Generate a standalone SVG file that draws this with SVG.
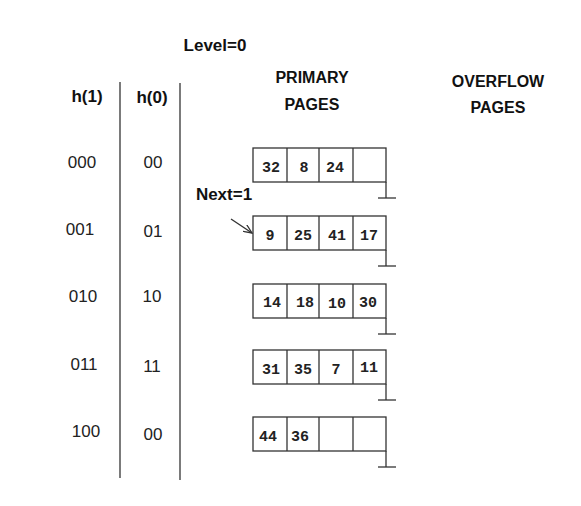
<svg xmlns="http://www.w3.org/2000/svg" width="581" height="506" viewBox="0 0 581 506">
<style>
.h{font-family:"Liberation Sans",Arial,sans-serif;font-weight:bold;font-size:17px;fill:#111;text-anchor:middle}
.p{font-family:"Liberation Sans",Arial,sans-serif;font-weight:bold;font-size:16px;fill:#111;text-anchor:middle}
.r{font-family:"Liberation Sans",Arial,sans-serif;font-size:17px;fill:#222;text-anchor:middle}
.n{font-family:"Liberation Mono","Courier New",monospace;font-weight:bold;font-size:15px;fill:#222;text-anchor:middle}
.b{fill:#fff;stroke:#333;stroke-width:1.3}
.l{stroke:#333;stroke-width:1.3;fill:none}
</style>
<defs>
<marker id="ah" markerWidth="10" markerHeight="8" refX="9" refY="4" orient="auto" markerUnits="userSpaceOnUse">
<path d="M0,0 L9,4 L0,8" fill="none" stroke="#333" stroke-width="1.3"/>
</marker>
<g id="bucket">
<rect class="b" x="0" y="0" width="133" height="34"/>
<line class="l" x1="34" y1="0" x2="34" y2="34"/>
<line class="l" x1="66" y1="0" x2="66" y2="34"/>
<line class="l" x1="100" y1="0" x2="100" y2="34"/>
<line class="l" x1="133" y1="34" x2="133" y2="50"/>
<line class="l" x1="125" y1="50" x2="143" y2="50"/>
</g>
</defs>
<rect width="581" height="506" fill="#fff"/>
<g id="headers">
<text class="h" x="215" y="51">Level=0</text>
<text class="h" x="87" y="102">h(1)</text>
<text class="h" x="152" y="103">h(0)</text>
<text class="p" x="312" y="83">PRIMARY</text>
<text class="p" x="312" y="110">PAGES</text>
<text class="p" x="498" y="87">OVERFLOW</text>
<text class="p" x="498" y="113">PAGES</text>
</g>
<g id="columns">
<line class="l" x1="120" y1="82" x2="120" y2="478"/>
<line class="l" x1="180" y1="83" x2="180" y2="480"/>
</g>
<g id="labels">
<text class="r" x="82" y="168">000</text><text class="r" x="153" y="168">00</text>
<text class="r" x="80" y="235">001</text><text class="r" x="153" y="237">01</text>
<text class="r" x="83" y="302">010</text><text class="r" x="152" y="302">10</text>
<text class="r" x="84" y="370">011</text><text class="r" x="152" y="372">11</text>
<text class="r" x="86" y="437">100</text><text class="r" x="153" y="440">00</text>
</g>
<g id="bucket0">
<use href="#bucket" x="253" y="148"/>
<text class="n" x="271" y="172">32</text><text class="n" x="304" y="172">8</text><text class="n" x="335" y="172">24</text>
</g>
<g id="bucket1">
<use href="#bucket" x="253" y="216"/>
<text class="n" x="270" y="240">9</text><text class="n" x="303" y="240">25</text><text class="n" x="337" y="240">41</text><text class="n" x="369" y="240">17</text>
</g>
<g id="bucket2">
<use href="#bucket" x="253" y="284"/>
<text class="n" x="272" y="307">14</text><text class="n" x="305" y="307">18</text><text class="n" x="337" y="308">10</text><text class="n" x="368" y="307">30</text>
</g>
<g id="bucket3">
<use href="#bucket" x="253" y="350"/>
<text class="n" x="271" y="374">31</text><text class="n" x="303" y="374">35</text><text class="n" x="336" y="374">7</text><text class="n" x="369" y="372">11</text>
</g>
<g id="bucket4">
<use href="#bucket" x="253" y="417"/>
<text class="n" x="268" y="441">44</text><text class="n" x="300" y="441">36</text>
</g>
<g id="next">
<text class="h" x="224" y="200">Next=1</text>
</g>
<g id="connectors">
<line class="l" x1="231" y1="219" x2="252" y2="233" marker-end="url(#ah)"/>
</g>
</svg>
